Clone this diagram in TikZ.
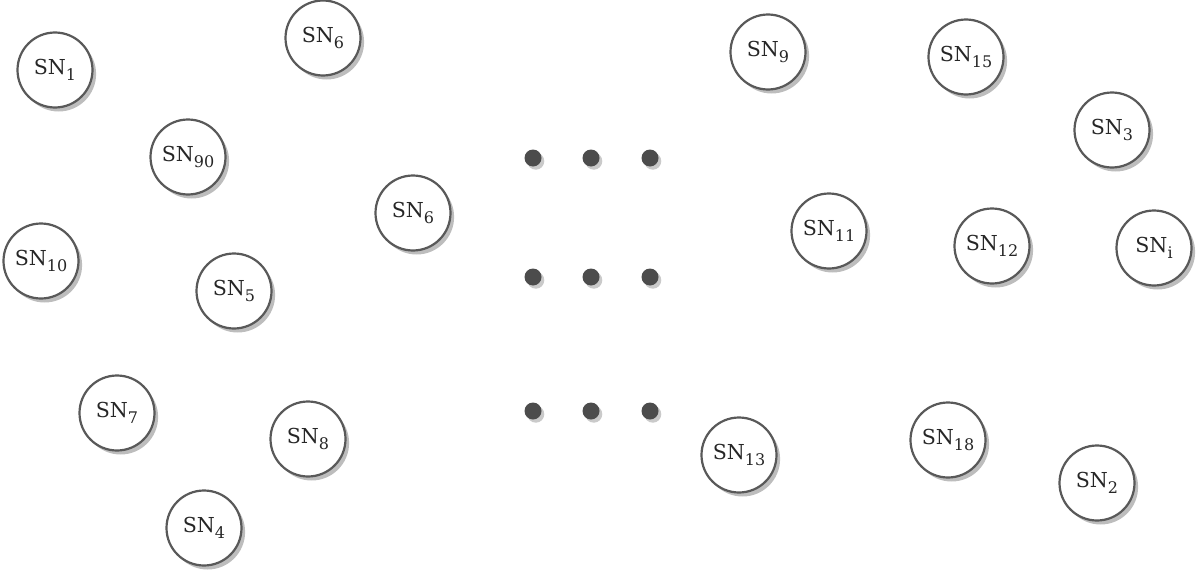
\documentclass[tikz,border=0pt]{standalone}
\usepackage{fontspec}
\setmainfont{DejaVu Serif}
\usetikzlibrary{shadows}
\newcommand\snlab[1]{SN\raisebox{-2.8pt}{\fontsize{8}{9}\selectfont #1}}
\tikzset{
  snnode/.style={circle, draw=black!65, line width=1.1pt, fill=white, minimum size=37.5pt, inner sep=0pt,
    font=\fontsize{10.3}{12}\selectfont, text=black!85,
    drop shadow={shadow xshift=1.8pt, shadow yshift=-2pt, fill=black!40, opacity=0.65}},
  dotnode/.style={circle, fill=black!70, minimum size=8.5pt, inner sep=0pt,
    drop shadow={shadow xshift=1.4pt, shadow yshift=-1.6pt, fill=black!35, opacity=0.6}}
}
\begin{document}
\begin{tikzpicture}[x=0.5pt, y=-0.5pt]
\useasboundingbox (0,0) rectangle (1200,573);
\node[snnode] (n1)  at (55,70)    {\snlab{1}};
\node[snnode] (n6a) at (323,38)   {\snlab{6}};
\node[snnode] (n90) at (188,157)  {\snlab{90}};
\node[snnode] (n6b) at (413,213)  {\snlab{6}};
\node[snnode] (n10) at (41,261)   {\snlab{10}};
\node[snnode] (n5)  at (234,291)  {\snlab{5}};
\node[snnode] (n7)  at (117,413)  {\snlab{7}};
\node[snnode] (n8)  at (308,439)  {\snlab{8}};
\node[snnode] (n4)  at (204,528)  {\snlab{4}};
\node[snnode] (n9)  at (768,52)   {\snlab{9}};
\node[snnode] (n15) at (966,57)   {\snlab{15}};
\node[snnode] (n3)  at (1112,130) {\snlab{3}};
\node[snnode] (n11) at (829,231)  {\snlab{11}};
\node[snnode] (n12) at (992,246)  {\snlab{12}};
\node[snnode] (ni)  at (1154,248) {\snlab{i}};
\node[snnode] (n13) at (739,455)  {\snlab{13}};
\node[snnode] (n18) at (948,440)  {\snlab{18}};
\node[snnode] (n2)  at (1097,483) {\snlab{2}};
\foreach \r/\yy in {a/158, b/277, c/411}{
  \foreach \c/\xx in {1/533, 2/591, 3/650}{
    \node[dotnode] (d\r\c) at (\xx,\yy) {};
  }
}
\end{tikzpicture}
\end{document}
